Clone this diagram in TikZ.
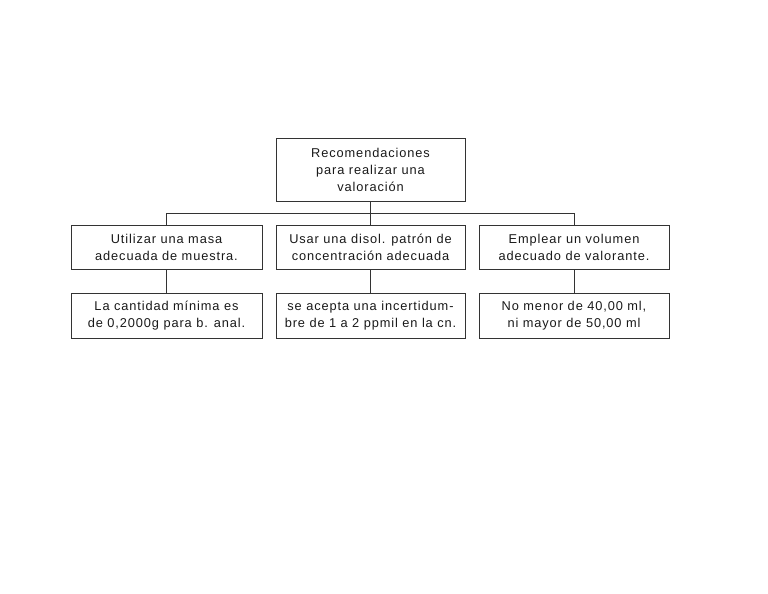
\documentclass[tikz,border=0pt]{standalone}
\usepackage{fontspec}
\setmainfont{Liberation Sans}[LetterSpace=7]
\begin{document}
\begin{tikzpicture}[x=1pt,y=-1pt,
  box/.style={draw=black!80, line width=0.9pt, align=center, inner sep=0pt,
    font=\fontsize{12.8}{17}\selectfont, text=black!90},
  conn/.style={draw=black!80, line width=0.9pt}]
\useasboundingbox (0,0) rectangle (768,594);
\node[box, minimum width=189pt, minimum height=63pt] (top) at (370.5,169.5) {Recomendaciones\\para realizar una\\valoración};
\node[box, minimum width=191pt, minimum height=44pt] (a1) at (166.5,247) {Utilizar una masa\\adecuada de muestra.};
\node[box, minimum width=189pt, minimum height=44pt] (a2) at (370.5,247) {Usar una disol. patrón de\\concentración adecuada};
\node[box, minimum width=190pt, minimum height=44pt] (a3) at (574,247) {Emplear un volumen\\adecuado de valorante.};
\node[box, minimum width=191pt, minimum height=45pt] (b1) at (166.5,315.5) {La cantidad mínima es\\de 0,2000g para b. anal.};
\node[box, minimum width=189pt, minimum height=45pt] (b2) at (370.5,315.5) {se acepta una incertidum-\\bre de 1 a 2 ppmil en la cn.};
\node[box, minimum width=190pt, minimum height=45pt] (b3) at (574,315.5) {No menor de 40,00 ml,\\ni mayor de 50,00 ml};
\coordinate (bus) at (370.5,213.5);
\draw[conn] (top.south) -- (a2.north);
\draw[conn] (a1.north) |- (bus) -| (a3.north);
\draw[conn] (a1.south) -- (b1.north);
\draw[conn] (a2.south) -- (b2.north);
\draw[conn] (a3.south) -- (b3.north);
\end{tikzpicture}
\end{document}
